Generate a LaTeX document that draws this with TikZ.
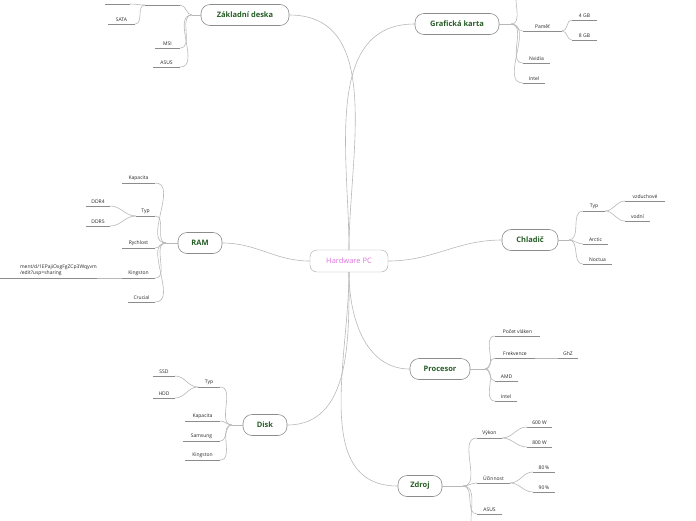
\documentclass[tikz,border=0pt]{standalone}
\usepackage{fontspec}
\setmainfont{Open Sans}
\begin{document}
\begin{tikzpicture}[x=1pt,y=-1pt,
  conn/.style={draw=black!28,line width=0.6pt},
  uline/.style={draw=black!45,line width=1pt},
  mainn/.style={draw=black!45,line width=0.6pt,rounded corners=9pt,fill=white,
    font=\bfseries\fontsize{7.5}{9}\selectfont,text=green!25!black!85,minimum height=21pt,inner xsep=8pt},
  leaf/.style={font=\fontsize{5}{6}\selectfont,text=black!85,inner xsep=0pt,inner ysep=2pt,anchor=south},
]
\useasboundingbox (0,0) rectangle (696,520);
\clip (0,0) rectangle (696,520);
\newcommand\leaf[5]{\node[leaf,minimum width={#3-#2}] (#1) at ({(#2+#3)/2},#4) {#5};
  \draw[uline] (#1.south west)--(#1.south east);}
\newcommand\rc[2]{\draw[conn] (#1) to[out=0,in=180] (#2);}
\newcommand\lc[2]{\draw[conn] (#1) to[out=180,in=0] (#2);}

% central
\node[draw=black!35,rounded corners=7pt,fill=white,minimum width=78pt,minimum height=22pt,
  font=\fontsize{7.5}{9}\selectfont,text=violet!45!magenta!55] (c) at (349,261) {Hardware PC};

% main nodes
\node[mainn,minimum width=88pt] (zd) at (245,15) {Základní deska};
\node[mainn,minimum width=84pt] (gk) at (457,24) {Grafická karta};
\node[mainn,minimum width=44pt] (ram) at (200,243) {RAM};
\node[mainn,minimum width=56pt] (ch) at (530,240) {Chladič};
\node[mainn,minimum width=60pt] (pr) at (440,369) {Procesor};
\node[mainn,minimum width=44pt] (di) at (265,425) {Disk};
\node[mainn,minimum width=44pt] (zr) at (420,486) {Zdroj};

\draw[conn] (c.north) to[out=90,in=0] (zd.east);
\draw[conn] (c.north) to[out=90,in=180] (gk.west);
\draw[conn] (c.west) to[out=180,in=0] (ram.east);
\draw[conn] (c.east) to[out=0,in=180] (ch.west);
\draw[conn] (c.south) to[out=-90,in=180] (pr.west);
\draw[conn] (c.south) to[out=-90,in=0] (di.east);
\draw[conn] (c.south) to[out=-90,in=180] (zr.west);

% branch points
\coordinate (bzd) at (192,15); \draw[conn] (zd.west)--(bzd);
\coordinate (bgk) at (511,24); \draw[conn] (gk.east)--(bgk);
\coordinate (bram) at (166,243); \draw[conn] (ram.west)--(bram);
\coordinate (bch) at (569,240); \draw[conn] (ch.east)--(bch);
\coordinate (bpr) at (485,369); \draw[conn] (pr.east)--(bpr);
\coordinate (bdi) at (232,425); \draw[conn] (di.west)--(bdi);
\coordinate (bzr) at (463,486); \draw[conn] (zr.east)--(bzr);

% Zakladni deska
\leaf{zt}{145}{180}{5}{}
\leaf{zt1}{105}{130}{4}{}
\leaf{sata}{108}{135}{24}{SATA}
\leaf{msi}{155}{180}{48}{MSI}
\leaf{asus}{153}{180}{67}{ASUS}
\lc{bzd}{zt.south east}\lc{bzd}{msi.south east}\lc{bzd}{asus.south east}
\lc{zt.south west}{sata.south east}\lc{zt.south west}{zt1.south east}

% Graficka karta
\coordinate (gtop) at (522,-12);
\rc{bgk}{gtop}
\leaf{pam}{523}{562}{31}{Paměť}
\leaf{g4}{572}{597}{20}{4 GB}
\leaf{g8}{572}{597}{40}{8 GB}
\leaf{nv}{523}{550}{63}{Nvidia}
\leaf{gi}{523}{545}{83}{Intel}
\rc{bgk}{pam.south west}\rc{bgk}{nv.south west}\rc{bgk}{gi.south west}
\rc{pam.south east}{g4.south west}\rc{pam.south east}{g8.south west}

% RAM
\leaf{kap}{122}{155}{183}{Kapacita}
\leaf{rtyp}{136}{155}{216}{Typ}
\leaf{d4}{86}{110}{206}{DDR4}
\leaf{d5}{86}{110}{226}{DDR5}
\leaf{ry}{122}{155}{248}{Rychlost}
\leaf{ki}{122}{155}{278}{Kingston}
\leaf{cr}{128}{155}{302}{Crucial}
\node[leaf,anchor=south east,align=left,inner ysep=2pt] (url) at (97,278) {ment/d/1EPajiOxgFgZCp3Wqyvm\\/edit?usp=sharing};
\draw[uline] (-10,278)--(97,278);
\coordinate (urle) at (97,278);
\lc{bram}{kap.south east}\lc{bram}{rtyp.south east}\lc{bram}{ry.south east}\lc{bram}{ki.south east}\lc{bram}{cr.south east}
\lc{rtyp.south west}{d4.south east}\lc{rtyp.south west}{d5.south east}
\draw[conn] (ki.south west)--(urle);

% Chladic
\leaf{cty}{583}{605}{211}{Typ}
\leaf{vz}{625}{665}{201}{vzduchové}
\leaf{vo}{625}{650}{221}{vodní}
\leaf{ar}{583}{608}{244}{Arctic}
\leaf{no}{583}{612}{264}{Noctua}
\rc{bch}{cty.south west}\rc{bch}{ar.south west}\rc{bch}{no.south west}
\rc{cty.south east}{vz.south west}\rc{cty.south east}{vo.south west}

% Procesor
\leaf{pv}{495}{540}{336}{Počet vláken}
\leaf{fr}{495}{535}{358}{Frekvence}
\leaf{gh}{558}{578}{358}{GhZ}
\leaf{amd}{495}{518}{381}{AMD}
\leaf{pin}{495}{517}{401}{Intel}
\rc{bpr}{pv.south west}\rc{bpr}{fr.south west}\rc{bpr}{amd.south west}\rc{bpr}{pin.south west}
\draw[conn] (fr.south east)--(gh.south west);

% Disk
\leaf{dty}{198}{220}{387}{Typ}
\leaf{ssd}{153}{175}{376}{SSD}
\leaf{hdd}{153}{175}{398}{HDD}
\leaf{dka}{185}{220}{421}{Kapacita}
\leaf{sam}{183}{220}{441}{Samsung}
\leaf{dki}{185}{220}{460}{Kingston}
\lc{bdi}{dty.south east}\lc{bdi}{dka.south east}\lc{bdi}{sam.south east}\lc{bdi}{dki.south east}
\lc{dty.south west}{ssd.south east}\lc{dty.south west}{hdd.south east}

% Zdroj
\leaf{vy}{477}{502}{438}{Výkon}
\leaf{w6}{527}{552}{427}{600 W}
\leaf{w8}{527}{552}{447}{800 W}
\leaf{uc}{477}{510}{483}{Účinnost}
\leaf{p8}{533}{555}{472}{80\,\%}
\leaf{p9}{533}{555}{492}{90\,\%}
\leaf{zas}{477}{502}{514}{ASUS}
\coordinate (zbot) at (480,535);
\rc{bzr}{vy.south west}\rc{bzr}{uc.south west}\rc{bzr}{zas.south west}\rc{bzr}{zbot}
\rc{vy.south east}{w6.south west}\rc{vy.south east}{w8.south west}
\rc{uc.south east}{p8.south west}\rc{uc.south east}{p9.south west}
\end{tikzpicture}
\end{document}
